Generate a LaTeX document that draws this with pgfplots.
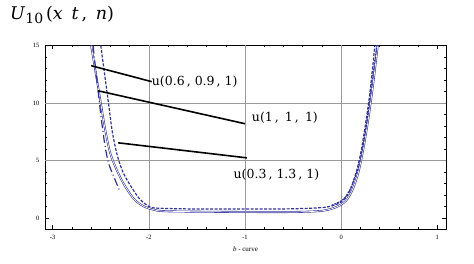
\documentclass[border=0pt]{standalone}
\usepackage{pgfplots}
\pgfplotsset{compat=1.18}
\usepackage{fontspec}
\setmainfont{Liberation Serif}
\newfontfamily\djs{DejaVu Serif}
\definecolor{cblue}{rgb}{0.2,0.2,0.6}
\begin{document}
\begin{tikzpicture}[x=1pt,y=1pt]
\useasboundingbox (0,0) rectangle (474,263);
\node[anchor=west,inner sep=0pt] at (10,248) {\djs\fontsize{17.5}{17.5}\selectfont\textit{U}\raisebox{-4pt}{\fontsize{14}{14}\selectfont 10}\,(\textit{x}\enspace\textit{t}\,,\enspace\textit{n})};
\begin{axis}[
  at={(45pt,34pt)}, anchor=south west,
  scale only axis, width=401pt, height=184pt,
  xmin=-3.08, xmax=1.09, ymin=-0.96, ymax=15.05,
  xtick={-3,-2,-1,0,1}, ytick={0,5,10,15},
  minor x tick num=4, minor y tick num=4,
  tick align=inside,
  major tick length=4pt, minor tick length=2pt,
  tick style={black, line width=0.5pt},
  axis line style={black, line width=1pt},
  extra x ticks={-2,-1,0}, extra y ticks={5,10},
  extra x tick labels={}, extra y tick labels={},
  extra tick style={grid=major, major tick length=0pt},
  grid style={gray!80, line width=0.6pt},
  tick label style={font=\fontsize{6.5}{6.5}\selectfont},
  xticklabel style={yshift=-3pt},
  yticklabel style={xshift=-2pt},
  /pgf/number format/assume math mode=true,
  xlabel={\textit{b} - curve},
  xlabel style={font=\fontsize{7}{7}\selectfont, yshift=0pt},
  clip=true,
]
% solid double curve
\addplot[cblue, line width=0.6pt, double=white, double distance=0.7pt, smooth] coordinates {
(-2.60,15) (-2.55,12.5) (-2.50,10) (-2.45,7.5) (-2.40,5.6) (-2.33,4.1) (-2.25,2.8) (-2.15,1.6) (-2.05,1.0) (-1.95,0.72) (-1.8,0.58) (-1.0,0.52) (-0.5,0.52) (-0.2,0.62) (-0.05,0.95) (0.05,1.5) (0.12,2.5) (0.18,4) (0.23,6) (0.28,8.5) (0.33,11.5) (0.38,15)
};
% dashed curve
\addplot[cblue, line width=1.2pt, dash pattern=on 3pt off 1.5pt, smooth] coordinates {
(-2.50,15) (-2.46,12.5) (-2.42,10) (-2.38,7.5) (-2.33,5.5) (-2.27,4) (-2.19,2.8) (-2.10,1.7) (-2.00,1.0) (-1.90,0.85) (-1.5,0.78) (-1.0,0.78) (-0.5,0.8) (-0.15,0.95) (0,1.4) (0.08,2.2) (0.15,3.8) (0.20,5.5) (0.25,8) (0.30,11) (0.35,15)
};
% dotted-dashed curve
\addplot[cblue, line width=1.2pt, dash pattern=on 8pt off 3pt on 1pt off 3pt, smooth] coordinates {
(-2.58,15) (-2.54,12) (-2.50,9) (-2.46,6.5) (-2.42,4.8) (-2.36,3.5) (-2.30,2.3)
};
\addplot[cblue, line width=1.2pt, dash pattern=on 2pt off 1pt, smooth] coordinates {
(-0.1,1.1) (0.02,1.6) (0.10,2.6) (0.17,4.2) (0.22,6) (0.27,8.6) (0.32,11.8) (0.37,15)
};
% pointer lines
\addplot[black, line width=1.6pt] coordinates {(-2.60,13.25) (-1.97,11.86)};
\addplot[black, line width=1.6pt] coordinates {(-2.53,11.07) (-1.00,8.20)};
\addplot[black, line width=1.6pt] coordinates {(-2.32,6.54) (-0.98,5.23)};
\node[anchor=west, inner sep=0pt, font=\djs\fontsize{12.5}{12.5}\selectfont] at (axis cs:-1.97,11.86) {u(0.6\,, 0.9\,, 1)};
\node[anchor=west, inner sep=0pt, font=\djs\fontsize{12.5}{12.5}\selectfont] at (axis cs:-0.93,8.75) {u(1\,,\, 1\,,\, 1)};
\node[anchor=west, inner sep=0pt, font=\djs\fontsize{12.5}{12.5}\selectfont] at (axis cs:-1.12,3.75) {u(0.3\,, 1.3\,, 1)};
\end{axis}
\end{tikzpicture}
\end{document}
